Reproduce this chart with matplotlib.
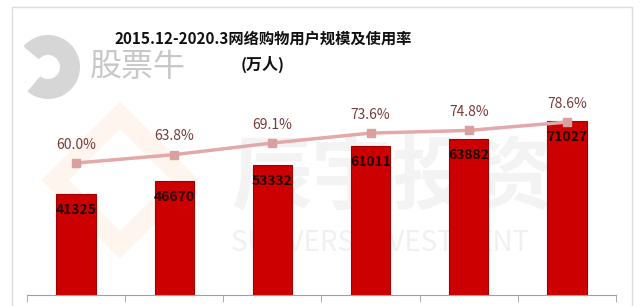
import numpy as np
import matplotlib
matplotlib.use('Agg')
from matplotlib import pyplot as plt
from matplotlib.patches import Rectangle, Wedge, Polygon

plt.rcParams['font.family'] = ['Noto Sans CJK SC', 'DejaVu Sans']

periods = ['2015.12', '2016.12', '2017.12', '2018.12', '2019.6', '2020.3']
users   = [41325, 46670, 53332, 61011, 63882, 71027]
rate    = [60.0, 63.8, 69.1, 73.6, 74.8, 78.6]

W, H = 640, 306
fig = plt.figure(figsize=(W/100, H/100), dpi=100)

# background layer in pixel coordinates (frame + watermarks)
bg = fig.add_axes([0, 0, 1, 1], zorder=-5)
bg.set_xlim(0, W)
bg.set_ylim(H, 0)
bg.axis('off')
bg.add_patch(Rectangle((12, 7), 620, 320, fill=False, edgecolor='#dcdcdc', lw=1.0))
bg.add_patch(Wedge((48, 67), 32, -140, 130, width=20, facecolor='#d6d6d6', edgecolor='none'))
bg.text(90, 67, '股票牛', color='#c8c8c8', size=23, va='center', ha='left')
bg.add_patch(Polygon([(120, 115), (185, 180), (120, 245), (55, 180)], closed=True,
                     fill=False, edgecolor='#fdf5ee', lw=14))
bg.text(392, 180, '辰宇投资', color='#f3f3f3', size=58, va='center', ha='center', weight='bold')
bg.text(380, 243, 'SUNVERS INVESTMENT', color='#f0f0f0', size=20, va='center', ha='center')

bg.text(263, 39, '2015.12-2020.3网络购物用户规模及使用率', size=11, weight='bold',
        ha='center', va='center', color='#111111')
bg.text(263, 64, '(万人)', size=11.5, weight='bold', ha='center', va='center', color='#111111')

ax = fig.add_axes([27/W, 11/H, 589/W, 220/H], zorder=1)
ax.patch.set_alpha(0)
x = np.arange(len(periods))
ax.bar(x, users, width=0.4, color='#cc0000', edgecolor='#a00000', lw=0.8, zorder=2)
for xi, v in zip(x, users):
    ax.text(xi, v - 6500, str(v), ha='center', va='center', size=10, weight='bold',
            color='#220303', zorder=5)
ax.set_xlim(-0.5, len(periods) - 0.5)
ax.set_ylim(0, 90000)
ax.set_yticks([])
for s in ['top', 'left', 'right']:
    ax.spines[s].set_visible(False)
ax.spines['bottom'].set_color('#a0a0a0')
ax.set_xticks(x)
ax.set_xticklabels(periods, size=10, color='#555555')
ax.tick_params(axis='x', which='major', length=0, pad=8)
ax.set_xticks(np.arange(-0.5, len(periods)), minor=True)
ax.tick_params(axis='x', which='minor', length=5, color='#a0a0a0')

ax2 = ax.twinx()
ax2.set_ylim(0, 100)
ax2.plot(x, rate, color='#e3a9a9', lw=2.5, marker='s', ms=6, mfc='#d9a0a0', mec='#d9a0a0',
         zorder=3)
for xi, r in zip(x, rate):
    ax2.text(xi, r + 8.3, f'{r:.1f}%', ha='center', va='center', size=10, color='#7a3b3b',
             weight='medium')
ax2.set_yticks([])
for s in ['top', 'left', 'right', 'bottom']:
    ax2.spines[s].set_visible(False)

fig.savefig('out.png', dpi=100)
